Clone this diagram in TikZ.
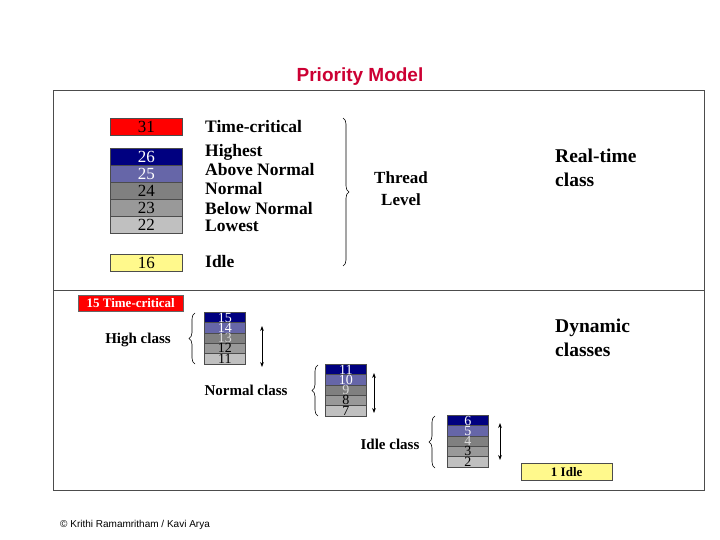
\documentclass[tikz,border=0pt]{standalone}
\usepackage{fontspec}
\setmainfont{Liberation Serif}
\setsansfont{Liberation Sans}
\usetikzlibrary{decorations.pathreplacing,arrows.meta}
\definecolor{navy}{HTML}{000080}
\definecolor{lav}{HTML}{6666A8}
\definecolor{gA}{HTML}{808080}
\definecolor{gB}{HTML}{999999}
\definecolor{gC}{HTML}{C0C0C0}
\definecolor{ttl}{HTML}{CC0033}
\begin{document}
\begin{tikzpicture}[x=1pt,y=-1pt,
  cell/.style={draw=black!70,line width=0.6pt,anchor=north west,inner sep=0,font=\fontsize{17}{17}\selectfont},
  lbl/.style={font=\bfseries\fontsize{17.5}{17}\selectfont,anchor=west,inner sep=0},
  big/.style={font=\bfseries\fontsize{19.5}{24}\selectfont,align=left,anchor=west,inner sep=0},
  sm/.style={draw=black!70,line width=0.6pt,anchor=north west,inner sep=0,font=\fontsize{14}{10}\selectfont},
  cls/.style={font=\bfseries\fontsize{15}{15}\selectfont},
  br/.style={decorate,decoration={brace,amplitude=6pt},line width=0.6pt},
  dbl/.style={{Stealth[length=5pt]}-{Stealth[length=5pt]},line width=0.8pt}]
\useasboundingbox (0,0) rectangle (720,540);
\node[font=\sffamily\bfseries\fontsize{19}{19}\selectfont,text=ttl] (title) at (360,77) {Priority Model};
\draw[line width=0.8pt,black!70] (53,90) rectangle (704,490);
\draw[line width=0.8pt,black!70] (53,290) -- (704,290);
% top
\node[cell,fill=red,minimum width=72,minimum height=17] (c31) at (110,118) {31};
\node[cell,fill=navy,text=white,minimum width=72,minimum height=17] (c26) at (110,148) {26};
\node[cell,fill=lav,text=white,minimum width=72,minimum height=17] (c25) at (110,165) {25};
\node[cell,fill=gA,minimum width=72,minimum height=17] (c24) at (110,182) {24};
\node[cell,fill=gB,minimum width=72,minimum height=17] (c23) at (110,199) {23};
\node[cell,fill=gC,minimum width=72,minimum height=17] (c22) at (110,216) {22};
\node[cell,fill=yellow!45,minimum width=72,minimum height=17] (c16) at (110,254) {16};
\node[lbl] (l1) at (205,127) {Time-critical};
\node[lbl] (l2) at (205,152) {Highest};
\node[lbl] (l3) at (205,170) {Above Normal};
\node[lbl] (l4) at (205,189) {Normal};
\node[lbl] (l5) at (205,209) {Below Normal};
\node[lbl] (l6) at (205,226) {Lowest};
\node[lbl] (l7) at (205,262) {Idle};
\coordinate (b1) at (343,118); \coordinate (b2) at (343,266);
\draw[br] (b1) -- (b2);
\node[font=\bfseries\fontsize{17}{22}\selectfont,align=center] (tl) at (401,189) {Thread\\Level};
\node[big] (rt) at (555,168) {Real-time\\class};
\node[big] (dc) at (555,338) {Dynamic\\classes};
% bottom
\node[draw=black!60,fill=red,text=white,font=\bfseries\fontsize{13}{13}\selectfont,minimum width=105,minimum height=16,inner sep=0,anchor=north west] (tc) at (78,295) {15 Time-critical};
\foreach \nm/\x/\y/\a/\b/\c/\d/\e in {h/204/312/15/14/13/12/11, n/325/364/11/10/9/8/7, i/447/415/6/5/4/3/2}{
  \node[sm,fill=navy,text=white,minimum width=41,minimum height=10.3] (\nm1) at (\x,\y) {\a};
  \node[sm,fill=lav,text=white,minimum width=41,minimum height=10.3] (\nm2) at (\x,\y+10.3) {\b};
  \node[sm,fill=gA,text=white!85!black,minimum width=41,minimum height=10.3] (\nm3) at (\x,\y+20.6) {\c};
  \node[sm,fill=gB,minimum width=41,minimum height=10.3] (\nm4) at (\x,\y+30.9) {\d};
  \node[sm,fill=gC,minimum width=41,minimum height=10.3] (\nm5) at (\x,\y+41.2) {\e};
}
\coordinate (hb1) at (195,364); \coordinate (hb2) at (195,313);
\draw[br] (hb1) -- (hb2);
\node[cls] (hl) at (138,340) {High class};
\coordinate (ha1) at (262,326); \coordinate (ha2) at (262,367);
\draw[dbl] (ha1) -- (ha2);
\coordinate (nb1) at (318,416); \coordinate (nb2) at (318,365);
\draw[br] (nb1) -- (nb2);
\node[cls] (nl) at (246,390) {Normal class};
\coordinate (na1) at (374,373); \coordinate (na2) at (374,413);
\draw[dbl] (na1) -- (na2);
\coordinate (ib1) at (435,468); \coordinate (ib2) at (435,416);
\draw[br] (ib1) -- (ib2);
\node[cls] (il) at (390,444) {Idle class};
\coordinate (ia1) at (500,423); \coordinate (ia2) at (500,460);
\draw[dbl] (ia1) -- (ia2);
\node[draw=black!70,fill=yellow!45,font=\bfseries\fontsize{13}{13}\selectfont,minimum width=91,minimum height=17,inner sep=0,anchor=north west] (id) at (521,463) {1 Idle};
\node[font=\sffamily\fontsize{10}{10}\selectfont,anchor=west,inner sep=0] (cp) at (60,525) {\textcopyright\ Krithi Ramamritham / Kavi Arya};
\end{tikzpicture}
\end{document}
